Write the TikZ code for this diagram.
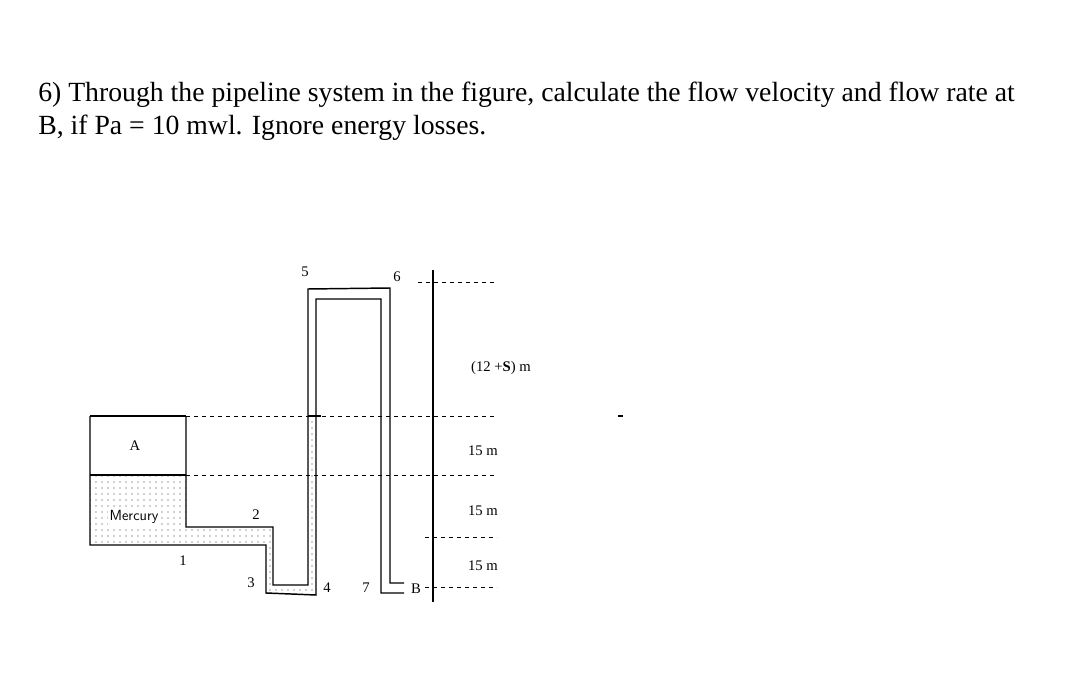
\documentclass[tikz,border=0pt]{standalone}
\usepackage{fontspec}
\setmainfont{Liberation Serif}
\usetikzlibrary{patterns}
\pgfdeclarepatternformonly{sparsedots}{\pgfqpoint{-1pt}{-1pt}}{\pgfqpoint{1pt}{1pt}}{\pgfqpoint{4.5pt}{4.5pt}}{%
  \pgfpathcircle{\pgfqpoint{0pt}{0pt}}{0.55pt}\pgfusepath{fill}}
\begin{document}
\begin{tikzpicture}[x=0.75pt,y=-0.75pt,
  pipe/.style={line width=1.1pt},
  dashln/.style={dashed,line width=0.6pt},
  lbl/.style={font=\fontsize{11}{13}\selectfont,inner sep=0},
  hg/.style={pattern=sparsedots,pattern color=black!80}]
\useasboundingbox (0,0) rectangle (1080,680);
\node[anchor=west,align=left,font=\fontsize{20.8}{24.8}\selectfont,inner sep=0] (title) at (38,111)
 {6) Through the pipeline system in the figure, calculate the flow velocity and flow rate at\\B, if Pa = 10 mwl. Ignore energy losses.};
% mercury
\fill[hg] (90,475) -- (186,475) -- (186,527) -- (273,527) -- (273,585) -- (308,585) -- (308,416) -- (316,416) -- (316,595) -- (266,593) -- (266,545) -- (90,545) -- cycle;
% tank
\draw[pipe] (90,475) -- (186,475);
\draw[pipe] (90,416) -- (186,416);
\draw[pipe] (186,416) -- (186,527) -- (273,527) -- (273,585) -- (308,585) -- (308,289) -- (390,288) -- (390,583) -- (404,583);
\draw[pipe] (90,416) -- (90,545) -- (266,545) -- (266,593) -- (316,595) -- (316,299) -- (381,299) -- (381,593) -- (404,593);
\draw[pipe] (308,416) -- (321,416);
% scale
\draw[line width=1.1pt] (433,270) -- (433,602);
\draw[dashln] (418,282) -- (497,282);
\draw[dashln] (186,416) -- (497,416);
\draw[dashln] (186,475) -- (497,475);
\draw[dashln] (425,537) -- (497,537);
\draw[dashln] (425,587) -- (497,587);
\draw[line width=0.8pt] (618,416) -- (623,416);
\node[lbl] (s) at (501,368) {(12 +\textbf{S}) m};
\node[lbl] (h1) at (483,451) {15 m};
\node[lbl] (h2) at (483,511) {15 m};
\node[lbl] (h3) at (483,566) {15 m};
\node[lbl] (n5) at (305,272) {5};
\node[lbl] (n6) at (397,277) {6};
\node[lbl] (n2) at (256,515) {2};
\node[lbl] (n1) at (183,561) {1};
\node[lbl] (n3) at (251,583) {3};
\node[lbl] (n4) at (327,588) {4};
\node[lbl] (n7) at (366,588) {7};
\node[lbl] (nB) at (416,589) {B};
\node[lbl] (nA) at (135,446) {A};
\node[lbl,fill=white,inner sep=1pt,font=\fontsize{11}{13}\sffamily\selectfont] (hgl) at (134,517) {Mercury};
\end{tikzpicture}
\end{document}
